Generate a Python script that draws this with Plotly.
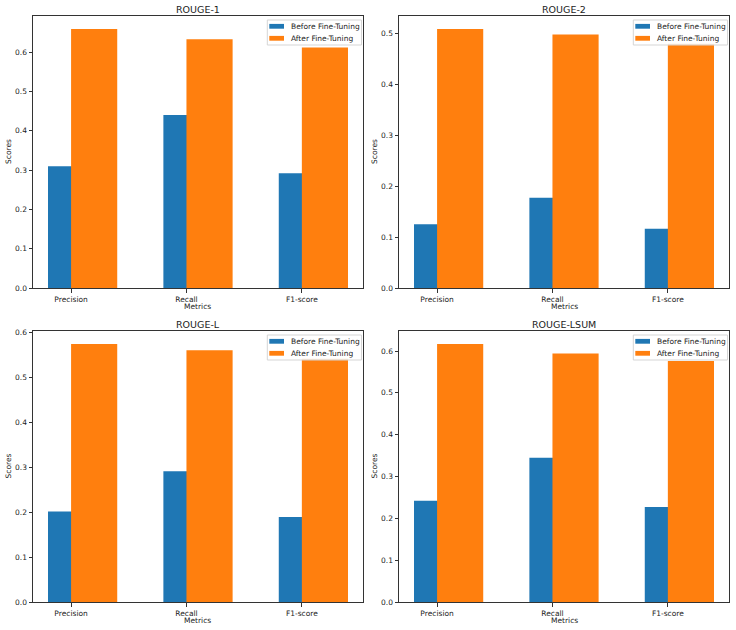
import plotly.graph_objects as go

metrics = ["Precision", "Recall", "F1-score"]
titles = ["ROUGE-1", "ROUGE-2", "ROUGE-L", "ROUGE-LSUM"]
series_names = ["Before Fine-Tuning", "After Fine-Tuning"]
before_r1 = [0.310, 0.440, 0.292]
after_r1 = [0.659, 0.633, 0.612]
before_r2 = [0.125, 0.177, 0.116]
after_r2 = [0.508, 0.497, 0.479]
before_rl = [0.201, 0.291, 0.189]
after_rl = [0.574, 0.560, 0.541]
before_rlsum = [0.242, 0.345, 0.227]
after_rlsum = [0.617, 0.594, 0.576]

befores = [before_r1, before_r2, before_rl, before_rlsum]
afters = [after_r1, after_r2, after_rl, after_rlsum]

W, H = 736, 630
FONT = "DejaVu Sans"
TXT = "#222"
BLUE = "#1f77b4"
ORANGE = "#ff7f0e"
colors = [BLUE, ORANGE]

# pixel boxes of each axes: (x0, x1, y_top, y_bottom)
boxes = [(33, 363, 16, 288), (399, 729, 16, 288), (33, 363, 331, 602), (399, 729, 331, 602)]


def px(x):
    return x / W


def py(y):
    return 1 - y / H


fig = go.Figure()
layout = dict(
    width=W, height=H, margin=dict(l=0, r=0, t=0, b=0),
    paper_bgcolor="white", plot_bgcolor="white",
    font=dict(family=FONT, size=8, color=TXT),
    barmode="overlay", showlegend=False,
)
annotations = []
shapes = []
xs = list(range(len(metrics)))
for i in range(4):
    x0, x1, yt, yb = boxes[i]
    n = "" if i == 0 else str(i + 1)
    xa, ya = "x" + n, "y" + n
    fig.add_trace(go.Bar(x=xs, y=befores[i], name=series_names[0], width=0.4, offset=-0.2,
                         marker=dict(color=BLUE, line=dict(width=0)), xaxis=xa, yaxis=ya))
    fig.add_trace(go.Bar(x=xs, y=afters[i], name=series_names[1], width=0.4, offset=0,
                         marker=dict(color=ORANGE, line=dict(width=0)), xaxis=xa, yaxis=ya))
    ymax = max(max(befores[i]), max(afters[i])) * 1.05
    common = dict(showline=True, linecolor="#333", linewidth=1, mirror=True,
                  ticks="outside", ticklen=3.5, tickcolor="#333", showgrid=False, zeroline=False,
                  tickfont=dict(family=FONT, size=7.5, color=TXT), fixedrange=True, automargin=False)
    layout["xaxis" + n] = dict(domain=[px(x0), px(x1)], anchor=ya, range=[-0.33, 2.53],
                               tickvals=xs, ticktext=metrics, **common)
    layout["yaxis" + n] = dict(domain=[py(yb), py(yt)], anchor=xa, range=[0, ymax],
                               dtick=0.1, tick0=0, tickformat=".1f", **common)
    # title and axis labels
    annotations.append(dict(text=titles[i], x=px((x0 + x1) / 2), y=py(yt - 6.5), xref="paper", yref="paper",
                            xanchor="center", yanchor="middle", showarrow=False,
                            font=dict(family=FONT, size=9.5, color=TXT)))
    annotations.append(dict(text="Metrics", x=px((x0 + x1) / 2), y=py(yb + 18.5), xref="paper", yref="paper",
                            xanchor="center", yanchor="middle", showarrow=False,
                            font=dict(family=FONT, size=7.5, color=TXT)))
    annotations.append(dict(text="Scores", x=px(x0 - 25), y=py((yt + yb) / 2), xref="paper", yref="paper",
                            xanchor="center", yanchor="middle", showarrow=False, textangle=-90,
                            font=dict(family=FONT, size=7.5, color=TXT)))
    # legend box (matplotlib style)
    shapes.append(dict(type="rect", xref="paper", yref="paper", layer="above",
                       x0=px(x1 - 95.7), x1=px(x1 - 1.5), y0=py(yt + 29), y1=py(yt + 4),
                       fillcolor="rgba(255,255,255,0.8)", line=dict(color="#d5d5d5", width=1)))
    for k in range(2):
        cy = yt + 10.3 + 12 * k
        shapes.append(dict(type="rect", xref="paper", yref="paper", layer="above",
                           x0=px(x1 - 93.7), x1=px(x1 - 79), y0=py(cy + 2.4), y1=py(cy - 2.4),
                           fillcolor=colors[k], line=dict(width=0)))
        annotations.append(dict(text=series_names[k], x=px(x1 - 74.5), y=py(cy), xref="paper", yref="paper",
                                xanchor="left", yanchor="middle", showarrow=False,
                                font=dict(family=FONT, size=7.5, color=TXT)))
layout["annotations"] = annotations
layout["shapes"] = shapes
fig.update_layout(**layout)
fig.write_html("out.html", config={"displayModeBar": False},
               post_script="document.body.style.margin='0';document.body.style.overflow='hidden';")
